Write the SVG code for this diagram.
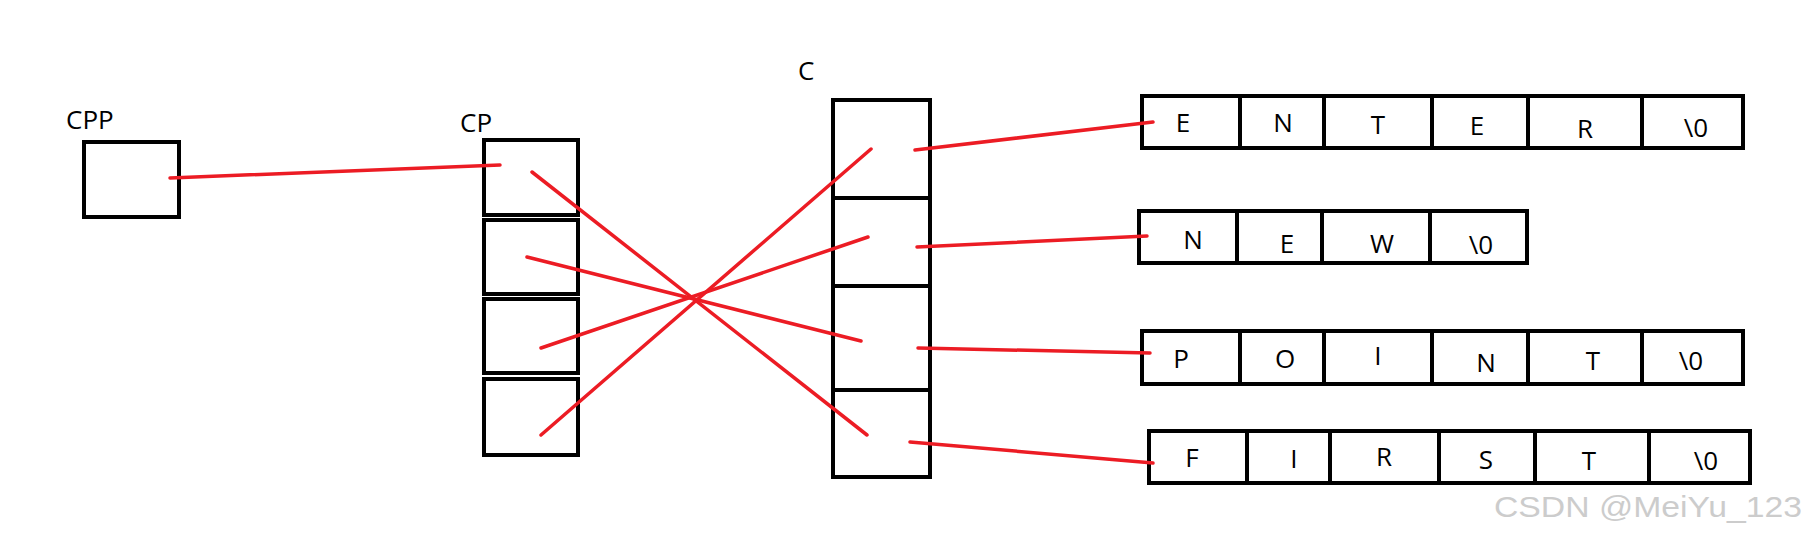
<svg xmlns="http://www.w3.org/2000/svg" width="1808" height="538" viewBox="0 0 1808 538">
<style>
.b{fill:#fff;stroke:#000;stroke-width:4}
.d{stroke:#000;stroke-width:4}
.r{stroke:#ec1c24;stroke-width:3.5;stroke-linecap:round;fill:none}
text{font-family:"Open Sans","Noto Sans",sans-serif;font-size:26px;fill:#000}
.c{text-anchor:middle}
.wm{font-family:"Liberation Sans",sans-serif;font-size:30px;fill:#ccc}
</style>
<rect width="1808" height="538" fill="#fff"/>
<g id="cpp"><rect class="b" x="84" y="142" width="95" height="75"/><text x="66" y="129">CPP</text></g>
<g id="cp">
<text x="460" y="132">CP</text>
<rect class="b" x="484" y="140" width="94" height="75"/>
<rect class="b" x="484" y="220" width="94" height="74"/>
<rect class="b" x="484" y="299" width="94" height="74"/>
<rect class="b" x="484" y="379" width="94" height="76"/>
</g>
<g id="c">
<text x="798" y="80">C</text>
<rect class="b" x="833" y="100" width="97" height="377"/>
<line class="d" x1="833" y1="198" x2="930" y2="198"/>
<line class="d" x1="833" y1="286" x2="930" y2="286"/>
<line class="d" x1="833" y1="390" x2="930" y2="390"/>
</g>
<g id="enter">
<rect class="b" x="1142" y="96" width="601" height="52"/>
<line class="d" x1="1240" y1="96" x2="1240" y2="148"/><line class="d" x1="1324" y1="96" x2="1324" y2="148"/><line class="d" x1="1432" y1="96" x2="1432" y2="148"/><line class="d" x1="1528" y1="96" x2="1528" y2="148"/><line class="d" x1="1642" y1="96" x2="1642" y2="148"/>
<text class="c" x="1183" y="132">E</text><text class="c" x="1283" y="132">N</text><text class="c" x="1378" y="134">T</text><text class="c" x="1477" y="135">E</text><text class="c" x="1585" y="138">R</text><text class="c" x="1696" y="137">\0</text>
</g>
<g id="new">
<rect class="b" x="1139" y="211" width="388" height="52"/>
<line class="d" x1="1237" y1="211" x2="1237" y2="263"/><line class="d" x1="1322" y1="211" x2="1322" y2="263"/><line class="d" x1="1430" y1="211" x2="1430" y2="263"/>
<text class="c" x="1193" y="249">N</text><text class="c" x="1287" y="253">E</text><text class="c" x="1382" y="253">W</text><text class="c" x="1481" y="254">\0</text>
</g>
<g id="point">
<rect class="b" x="1142" y="331" width="601" height="53"/>
<line class="d" x1="1240" y1="331" x2="1240" y2="384"/><line class="d" x1="1324" y1="331" x2="1324" y2="384"/><line class="d" x1="1432" y1="331" x2="1432" y2="384"/><line class="d" x1="1528" y1="331" x2="1528" y2="384"/><line class="d" x1="1642" y1="331" x2="1642" y2="384"/>
<text class="c" x="1181" y="368">P</text><text class="c" x="1285" y="368">O</text><text class="c" x="1378" y="365">I</text><text class="c" x="1486" y="372">N</text><text class="c" x="1593" y="370">T</text><text class="c" x="1691" y="370">\0</text>
</g>
<g id="first">
<rect class="b" x="1149" y="431" width="601" height="52"/>
<line class="d" x1="1247" y1="431" x2="1247" y2="483"/><line class="d" x1="1330" y1="431" x2="1330" y2="483"/><line class="d" x1="1439" y1="431" x2="1439" y2="483"/><line class="d" x1="1535" y1="431" x2="1535" y2="483"/><line class="d" x1="1649" y1="431" x2="1649" y2="483"/>
<text class="c" x="1192" y="467">F</text><text class="c" x="1294" y="468">I</text><text class="c" x="1384" y="466">R</text><text class="c" x="1486" y="469">S</text><text class="c" x="1589" y="470">T</text><text class="c" x="1706" y="470">\0</text>
</g>
<g id="connectors">
<line class="r" x1="170" y1="178" x2="500" y2="165"/>
<line class="r" x1="532" y1="172" x2="867" y2="435"/>
<line class="r" x1="527" y1="257" x2="861" y2="341"/>
<line class="r" x1="541" y1="348" x2="868" y2="237"/>
<line class="r" x1="541" y1="435" x2="871" y2="149"/>
<line class="r" x1="915" y1="150" x2="1153" y2="122"/>
<line class="r" x1="917" y1="247" x2="1147" y2="236"/>
<line class="r" x1="918" y1="348" x2="1150" y2="353"/>
<line class="r" x1="910" y1="442" x2="1153" y2="463"/>
</g>
<text class="wm" x="1494" y="517" textLength="308" lengthAdjust="spacingAndGlyphs">CSDN @MeiYu_123</text>
</svg>
